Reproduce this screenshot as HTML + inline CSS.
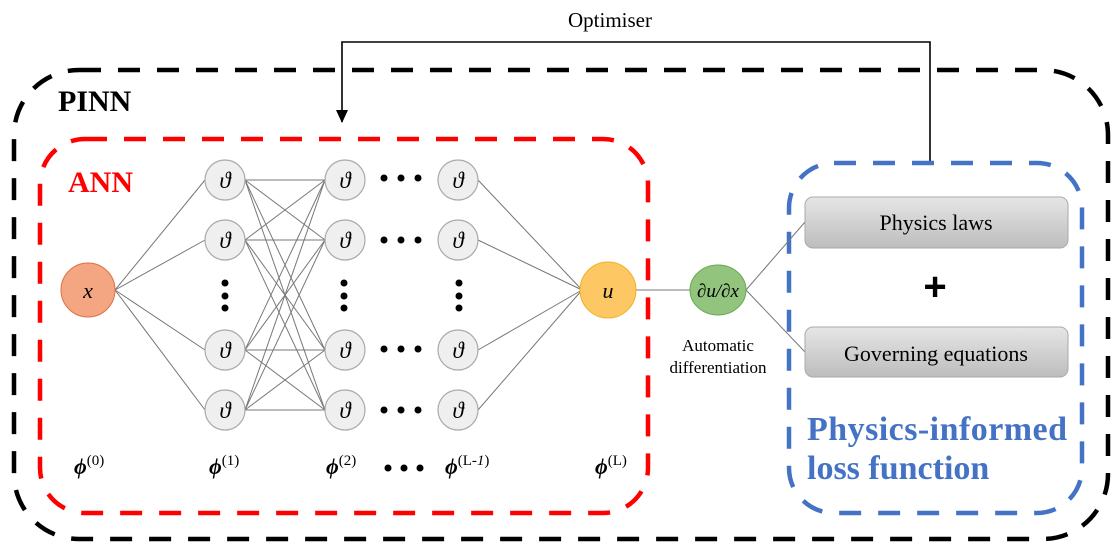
<!DOCTYPE html>
<html><head><meta charset="utf-8"><style>
html,body{margin:0;padding:0;background:#fff;}
svg{display:block;font-family:"Liberation Serif",serif;}
</style></head><body>
<svg width="1120" height="549" viewBox="0 0 1120 549" xmlns="http://www.w3.org/2000/svg">
<text x="610" y="27" font-size="21" text-anchor="middle">Optimiser</text>
<path d="M930,163 V42 H342 V122" fill="none" stroke="#000" stroke-width="1.6"/>
<path d="M336,110 L348,110 L342,123 Z" fill="#000"/>
<rect x="14" y="70" width="1094" height="469" rx="65" fill="none" stroke="#000" stroke-width="4.5" stroke-dasharray="22,17"/>
<text x="58" y="111" font-size="30" font-weight="bold">PINN</text>
<rect x="40" y="139" width="608" height="374" rx="45" fill="none" stroke="#f00" stroke-width="4.5" stroke-dasharray="22,17"/>
<text x="68" y="192" font-size="30" font-weight="bold" fill="#f00">ANN</text>
<rect x="789" y="163" width="293" height="350" rx="45" fill="none" stroke="#4472c4" stroke-width="4.5" stroke-dasharray="22,17"/>
<g stroke="#777" stroke-width="1">
<line x1="115" y1="290" x2="205" y2="180"/><line x1="115" y1="290" x2="205" y2="240"/>
<line x1="115" y1="290" x2="205" y2="350"/><line x1="115" y1="290" x2="205" y2="410"/>
<line x1="245" y1="180" x2="325" y2="180"/><line x1="245" y1="180" x2="325" y2="240"/><line x1="245" y1="180" x2="325" y2="350"/><line x1="245" y1="180" x2="325" y2="410"/>
<line x1="245" y1="240" x2="325" y2="180"/><line x1="245" y1="240" x2="325" y2="240"/><line x1="245" y1="240" x2="325" y2="350"/><line x1="245" y1="240" x2="325" y2="410"/>
<line x1="245" y1="350" x2="325" y2="180"/><line x1="245" y1="350" x2="325" y2="240"/><line x1="245" y1="350" x2="325" y2="350"/><line x1="245" y1="350" x2="325" y2="410"/>
<line x1="245" y1="410" x2="325" y2="180"/><line x1="245" y1="410" x2="325" y2="240"/><line x1="245" y1="410" x2="325" y2="350"/><line x1="245" y1="410" x2="325" y2="410"/>
<line x1="478" y1="180" x2="582" y2="290"/><line x1="478" y1="240" x2="582" y2="290"/>
<line x1="478" y1="350" x2="582" y2="290"/><line x1="478" y1="410" x2="582" y2="290"/>
<line x1="636" y1="290" x2="690" y2="290"/>
<line x1="746" y1="290" x2="805" y2="222"/><line x1="746" y1="290" x2="805" y2="352"/>
</g>
<circle cx="88" cy="290" r="27" fill="#f4a582" stroke="#e07040" stroke-width="1"/>
<text x="88" y="298" font-size="22" font-style="italic" text-anchor="middle">x</text>
<g fill="#efefef" stroke="#aaa" stroke-width="1.2">
<circle cx="225" cy="180" r="20"/><circle cx="225" cy="240" r="20"/><circle cx="225" cy="350" r="20"/><circle cx="225" cy="410" r="20"/>
<circle cx="345" cy="180" r="20"/><circle cx="345" cy="240" r="20"/><circle cx="345" cy="350" r="20"/><circle cx="345" cy="410" r="20"/>
<circle cx="458" cy="180" r="20"/><circle cx="458" cy="240" r="20"/><circle cx="458" cy="350" r="20"/><circle cx="458" cy="410" r="20"/>
</g>
<g font-size="23" font-style="italic" text-anchor="middle">
<text x="225" y="188">ϑ</text><text x="225" y="248">ϑ</text><text x="225" y="358">ϑ</text><text x="225" y="418">ϑ</text>
<text x="345" y="188">ϑ</text><text x="345" y="248">ϑ</text><text x="345" y="358">ϑ</text><text x="345" y="418">ϑ</text>
<text x="458" y="188">ϑ</text><text x="458" y="248">ϑ</text><text x="458" y="358">ϑ</text><text x="458" y="418">ϑ</text>
</g>
<g fill="#000">
<circle cx="225" cy="283" r="3.5"/><circle cx="225" cy="296" r="3.5"/><circle cx="225" cy="308" r="3.5"/>
<circle cx="344" cy="283" r="3.5"/><circle cx="344" cy="296" r="3.5"/><circle cx="344" cy="308" r="3.5"/>
<circle cx="459" cy="283" r="3.5"/><circle cx="459" cy="296" r="3.5"/><circle cx="459" cy="308" r="3.5"/>
<circle cx="384" cy="178" r="3.5"/><circle cx="401" cy="178" r="3.5"/><circle cx="418" cy="178" r="3.5"/>
<circle cx="384" cy="240" r="3.5"/><circle cx="401" cy="240" r="3.5"/><circle cx="418" cy="240" r="3.5"/>
<circle cx="384" cy="349" r="3.5"/><circle cx="401" cy="349" r="3.5"/><circle cx="418" cy="349" r="3.5"/>
<circle cx="384" cy="410" r="3.5"/><circle cx="401" cy="410" r="3.5"/><circle cx="418" cy="410" r="3.5"/>
<circle cx="388" cy="468" r="3.5"/><circle cx="404" cy="468" r="3.5"/><circle cx="420" cy="468" r="3.5"/>
</g>
<circle cx="608" cy="290" r="28" fill="#fdc863" stroke="#f0b020" stroke-width="1"/>
<text x="608" y="298" font-size="22" font-style="italic" text-anchor="middle">u</text>
<ellipse cx="718" cy="290" rx="28" ry="25" fill="#93c47d" stroke="#6aa84f" stroke-width="1"/>
<text x="718" y="297" font-size="19" font-style="italic" text-anchor="middle">∂u/∂x</text>
<text x="718" y="351" font-size="17" text-anchor="middle">Automatic</text>
<text x="718" y="373" font-size="17" text-anchor="middle">differentiation</text>
<defs><linearGradient id="g" x1="0" y1="0" x2="0" y2="1"><stop offset="0" stop-color="#e6e6e6"/><stop offset="1" stop-color="#bdbdbd"/></linearGradient></defs>
<rect x="805" y="197" width="263" height="51" rx="8" fill="url(#g)" stroke="#aaa"/>
<text x="936" y="230" font-size="22" text-anchor="middle">Physics laws</text>
<rect x="805" y="327" width="263" height="50" rx="8" fill="url(#g)" stroke="#aaa"/>
<text x="936" y="361" font-size="22" text-anchor="middle">Governing equations</text>
<text x="935" y="300" font-size="40" font-weight="bold" text-anchor="middle" font-family="Liberation Sans,sans-serif">+</text>
<text x="807" y="440" font-size="34" font-weight="bold" fill="#4472c4" textLength="260">Physics-informed</text>
<text x="807" y="479" font-size="34" font-weight="bold" fill="#4472c4">loss function</text>
<g font-size="22" font-weight="bold" font-style="italic">
<text x="74" y="474">ϕ<tspan font-size="15" font-weight="normal" font-style="normal" dy="-9">(0)</tspan></text>
<text x="209" y="474">ϕ<tspan font-size="15" font-weight="normal" font-style="normal" dy="-9">(1)</tspan></text>
<text x="326" y="474">ϕ<tspan font-size="15" font-weight="normal" font-style="normal" dy="-9">(2)</tspan></text>
<text x="445" y="474">ϕ<tspan font-size="15" font-weight="normal" font-style="normal" dy="-9">(L-<tspan font-style="italic">1</tspan>)</tspan></text>
<text x="595" y="474">ϕ<tspan font-size="15" font-weight="normal" font-style="normal" dy="-9">(L)</tspan></text>
</g>
</svg>
</body></html>
